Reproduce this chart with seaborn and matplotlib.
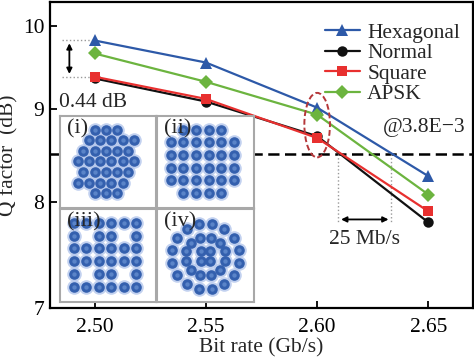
import numpy as np
import pandas as pd
import seaborn as sns
import matplotlib.pyplot as plt
from matplotlib.patches import Ellipse
from matplotlib.ticker import NullLocator, FixedLocator, FixedFormatter

# Data
bit_rate = [2.50, 2.55, 2.60, 2.65]
hexagonal = [9.82, 9.55, 9.02, 8.27]
normal = [9.36, 9.09, 8.70, 7.80]
square = [9.38, 9.12, 8.68, 7.91]
apsk = [9.66, 9.32, 8.94, 8.08]
formats = ['Hexagonal', 'Normal', 'Square', 'APSK']
threshold = 8.51

# constellation layouts for the insets (rows of x positions)
hex_rows = {3: [-1, 0, 1], 2: [-1.5, -0.5, 0.5, 1.5, 2.5], 1: [-2, -1, 0, 1, 2],
            0: [-2.5, -1.5, -0.5, 0.5, 1.5, 2.5], -1: [-2, -1, 0, 1, 2],
            -2: [-2.5, -1.5, -0.5, 0.5, 1.5], -3: [-1, 0, 1]}
cross_rows = {2.5: [-1.5, -0.5, 0.5, 1.5], 1.5: [-2.5, -1.5, -0.5, 0.5, 1.5, 2.5],
              0.5: [-2.5, -1.5, -0.5, 0.5, 1.5, 2.5], -0.5: [-2.5, -1.5, -0.5, 0.5, 1.5, 2.5],
              -1.5: [-2.5, -1.5, -0.5, 0.5, 1.5, 2.5], -2.5: [-1.5, -0.5, 0.5, 1.5]}
holes_rows = {2.5: [-2.5, -1.5, -0.5, 0.5, 1.5, 2.5], 1.5: [-2.5, -0.5, 0.5, 2.5],
              0.5: [-2.5, -1.5, -0.5, 0.5, 1.5, 2.5], -0.5: [-2.5, -1.5, -0.5, 0.5, 1.5, 2.5],
              -1.5: [-2.5, -0.5, 0.5, 2.5], -2.5: [-2.5, -1.5, -0.5, 0.5, 1.5, 2.5]}
apsk_rings = [(4, 0.2, np.pi / 4), (12, 0.58, np.pi / 12), (16, 1.0, np.pi / 16)]

df = pd.DataFrame({
    'Bit rate': bit_rate * 4,
    'Q': hexagonal + normal + square + apsk,
    'Format': sum([[f] * 4 for f in formats], []),
})

colors = {'Hexagonal': '#2d59a8', 'Normal': '#111111', 'Square': '#e8302f', 'APSK': '#6cb43f'}
markers = {'Hexagonal': '^', 'Normal': 'o', 'Square': 's', 'APSK': 'D'}
msizes = {'Hexagonal': 9, 'Normal': 7.5, 'Square': 7, 'APSK': 7.5}

sns.set_style('ticks')
plt.rcParams['font.family'] = ['Liberation Serif', 'DejaVu Serif']

fig = plt.figure(figsize=(4.74, 3.62), dpi=100)
ax = fig.add_axes([50 / 474, 1 - 308 / 362, 423 / 474, 306 / 362])

ax.axhline(threshold, color='black', lw=1.8, ls=(0, (4.5, 2.2)), zorder=1)

for f in formats:
    sns.lineplot(data=df[df['Format'] == f], x='Bit rate', y='Q', color=colors[f],
                 marker=markers[f], markersize=msizes[f], markeredgewidth=0,
                 lw=1.6, label=f, ax=ax, zorder=3)

ax.set_yscale('log')
ax.set_xlim(2.48, 2.67)
ax.set_ylim(7.0, 10.31)
ax.yaxis.set_major_locator(FixedLocator([7, 8, 9, 10]))
ax.yaxis.set_major_formatter(FixedFormatter(['7', '8', '9', '10']))
ax.yaxis.set_minor_locator(NullLocator())
ax.set_xticks(bit_rate)
ax.set_xticklabels(['2.50', '2.55', '2.60', '2.65'])
ax.tick_params(direction='in', length=5, width=1.3, labelsize=15.5, colors='black')
ax.tick_params(axis='x', pad=7)
ax.tick_params(axis='y', pad=4)
for s in ax.spines.values():
    s.set_linewidth(1.6)
    s.set_color('black')
ax.set_xlabel('Bit rate (Gb/s)', fontsize=15.5, labelpad=1)
ax.set_ylabel('Q factor  (dB)', fontsize=15.5, labelpad=3)

leg = ax.legend(loc='upper right', bbox_to_anchor=(1.0, 0.975), frameon=False, fontsize=15.5,
                handlelength=1.6, handletextpad=0.35, labelspacing=0.02, borderpad=0.1)

# 0.44 dB annotation
for yv in (9.82, 9.38):
    ax.plot([2.4856, 2.4995], [yv, yv], color='#999999', lw=1, ls=':', zorder=2)
ax.annotate('', xy=(2.4887, 9.38), xytext=(2.4887, 9.82),
            arrowprops=dict(arrowstyle='<|-|>', color='black', lw=1.3, mutation_scale=8))
ax.text(2.4995, 9.08, '0.44 dB', fontsize=15.5, ha='center', va='center')

# 25 Mb/s annotation
for xv in (2.6095, 2.6333):
    ax.plot([xv, xv], [threshold, 7.80], color='#999999', lw=1, ls=':', zorder=2)
ax.annotate('', xy=(2.6095, 7.83), xytext=(2.6333, 7.83),
            arrowprops=dict(arrowstyle='<|-|>', color='black', lw=1.3, mutation_scale=8))
ax.text(2.6212, 7.63, '25 Mb/s', fontsize=15.5, ha='center', va='center')
ax.text(2.648, 8.80, '@3.8E\u22123', fontsize=15.5, ha='center', va='center')

ax.add_patch(Ellipse((2.6, 8.83), 0.0115, 0.72, fill=False, ec='#b5373a', lw=1.4,
                     ls=(0, (3, 1.5)), zorder=4))


def draw_points(iax, xs, ys):
    iax.scatter(xs, ys, s=110, color='#b3c6ec', alpha=0.8, lw=0, zorder=2)
    iax.scatter(xs, ys, s=58, color='#3460ae', lw=0, zorder=3)
    iax.scatter(xs, ys, s=10, color='#5a84c8', lw=0, zorder=4)


def rows_to_xy(rows, dy):
    xs, ys = [], []
    for r, cols in rows.items():
        xs += cols
        ys += [r * dy] * len(cols)
    return xs, ys


panels = [(60, 116, 96, 92, '(i)'), (157, 116, 97, 92, '(ii)'),
          (60, 209, 96, 93, '(iii)'), (157, 209, 97, 93, '(iv)')]
for k, (px, py, pw, ph, lab) in enumerate(panels):
    iax = fig.add_axes([px / 474, 1 - (py + ph) / 362, pw / 474, ph / 362])
    iax.set_facecolor('white')
    iax.set_xticks([])
    iax.set_yticks([])
    for s in iax.spines.values():
        s.set_color('#a8a8a8')
        s.set_linewidth(1.5)
    if k == 0:
        xs, ys = rows_to_xy(hex_rows, 0.95)
        draw_points(iax, xs, ys)
        iax.set_xlim(-4.1, 4.5)
        iax.set_ylim(-4.2, 4.1)
    elif k == 1:
        xs, ys = rows_to_xy(cross_rows, 1.0)
        draw_points(iax, xs, ys)
        iax.set_xlim(-3.6, 4.1)
        iax.set_ylim(-3.7, 3.6)
    elif k == 2:
        xs, ys = rows_to_xy(holes_rows, 1.0)
        draw_points(iax, xs, ys)
        iax.set_xlim(-3.6, 4.1)
        iax.set_ylim(-3.7, 3.6)
    else:
        xs, ys = [], []
        for n, rad, off in apsk_rings:
            ang = off + np.arange(n) * 2 * np.pi / n
            xs += list(rad * np.cos(ang))
            ys += list(rad * np.sin(ang))
        draw_points(iax, xs, ys)
        iax.set_xlim(-1.42, 1.42)
        iax.set_ylim(-1.38, 1.42)
    iax.text(0.07, 0.86, lab, transform=iax.transAxes, fontsize=16, ha='left', va='center', zorder=6)

fig.savefig('out.png', dpi=100)
